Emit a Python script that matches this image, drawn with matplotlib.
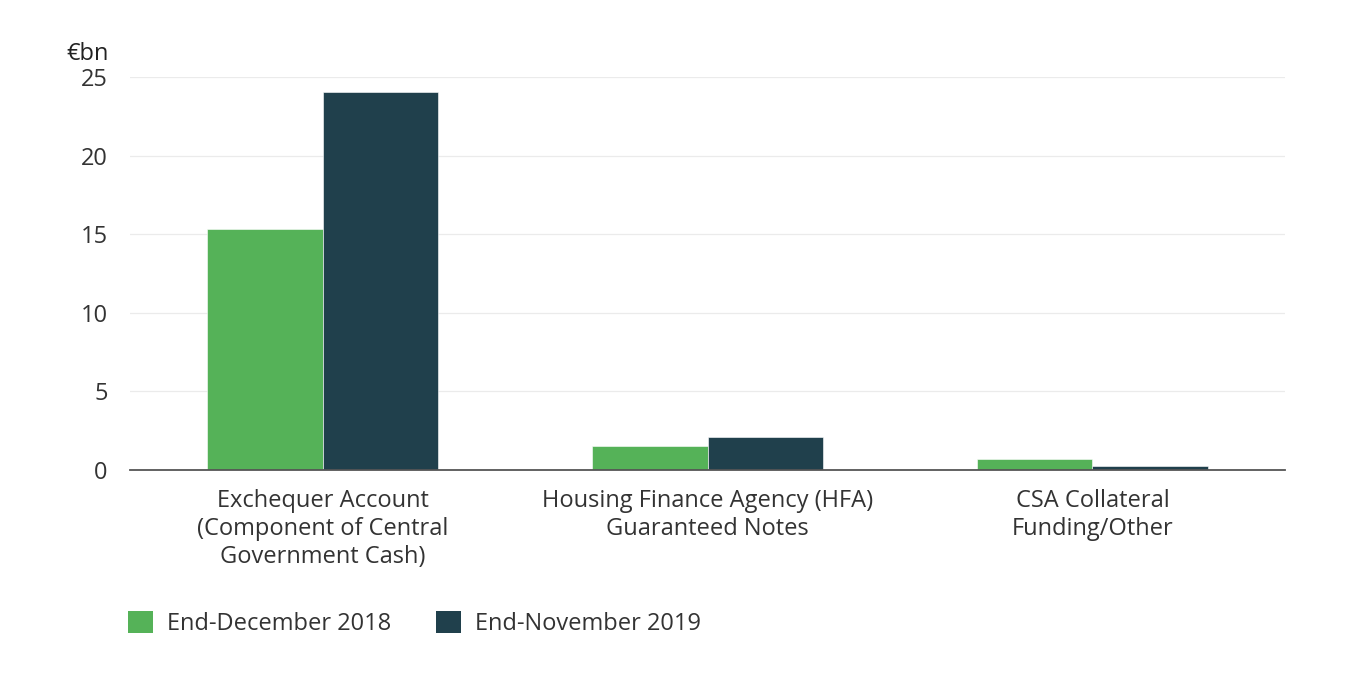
import matplotlib.pyplot as plt
import numpy as np
from matplotlib.patches import Patch

categories = ['Exchequer Account\n(Component of Central\nGovernment Cash)',
              'Housing Finance Agency (HFA)\nGuaranteed Notes',
              'CSA Collateral\nFunding/Other']
dec_2018 = [15.35, 1.55, 0.7]
nov_2019 = [24.05, 2.1, 0.25]
series_names = ['End-December 2018', 'End-November 2019']
colors = ['#55b258', '#20404c']
yticks = [0, 5, 10, 15, 20, 25]

plt.rcParams['font.family'] = ['Open Sans', 'DejaVu Sans']
fs = 17

fig = plt.figure(figsize=(13.52, 6.81), dpi=100)
ax = fig.add_axes([0.0962, 0.3098, 0.8542, 0.5771])

x = np.arange(len(categories))
w = 0.3
ax.bar(x - w / 2, dec_2018, w, color=colors[0], edgecolor='white', linewidth=0.4)
ax.bar(x + w / 2, nov_2019, w, color=colors[1], edgecolor='white', linewidth=0.4)

ax.set_xlim(-0.5, 2.5)
ax.set_ylim(0, 25)
ax.set_yticks(yticks)
ax.set_xticks(x)
ax.set_xticklabels(categories, fontsize=fs, color='#333333', linespacing=1.2)
ax.tick_params(axis='y', labelsize=fs, labelcolor='#333333', length=0, pad=16)
ax.tick_params(axis='x', length=0, pad=14)

ax.set_axisbelow(True)
ax.yaxis.grid(color='#ebebeb', linewidth=0.9)
for s in ['top', 'right', 'left']:
    ax.spines[s].set_visible(False)
ax.spines['bottom'].set_color('#555555')
ax.spines['bottom'].set_linewidth(1.3)

fig.text(0.049, 0.921, '€bn', fontsize=fs, color='#222222', va='center', ha='left')

handles = [Patch(facecolor=c, label=n) for c, n in zip(colors, series_names)]
fig.legend(handles=handles, loc='center left', bbox_to_anchor=(0.079, 0.085),
           ncol=2, frameon=False, fontsize=fs, handlelength=1.05, handleheight=1.05,
           handletextpad=0.6, columnspacing=1.9, labelcolor='#333333')

fig.savefig('out.png', dpi=100)
